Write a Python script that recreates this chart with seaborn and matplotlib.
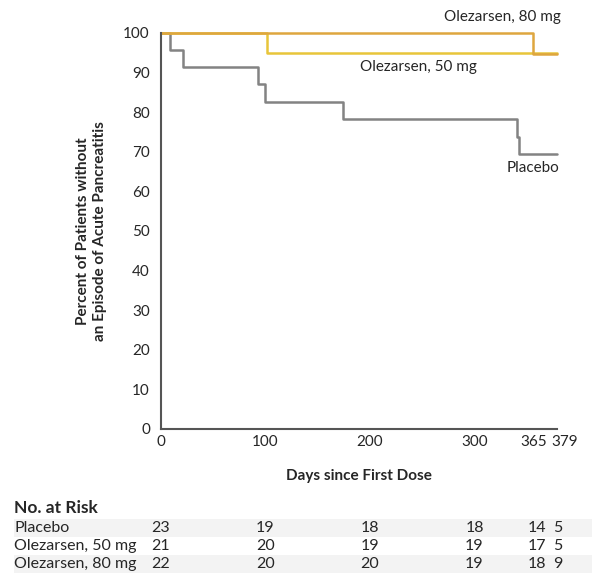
import pandas as pd
import numpy as np
import matplotlib.pyplot as plt
import matplotlib.transforms as mtransforms
from matplotlib.patches import Rectangle
import seaborn as sns

# Kaplan-Meier steps
placebo_days = [0, 8.5, 21, 92.5, 99.5, 174.5, 341, 343, 379]
placebo_pct = [100, 95.7, 91.3, 87.0, 82.6, 78.3, 73.8, 69.5, 69.5]
ole50_days = [0, 101.7, 379]
ole50_pct = [100, 95.0, 95.0]
ole80_days = [0, 356, 379]
ole80_pct = [100, 94.8, 94.8]

groups = ["Placebo", "Olezarsen, 50 mg", "Olezarsen, 80 mg"]
colors = {"Placebo": "#838383", "Olezarsen, 50 mg": "#e8c53a", "Olezarsen, 80 mg": "#dea63f"}

x_ticks = [0, 100, 200, 300, 365, 379]
y_ticks = [0, 10, 20, 30, 40, 50, 60, 70, 80, 90, 100]

risk_days = [0, 100, 200, 300, 365, 379]
risk_placebo = [23, 19, 18, 18, 14, 5]
risk_50 = [21, 20, 19, 19, 17, 5]
risk_80 = [22, 20, 20, 19, 18, 9]

df = pd.concat([
    pd.DataFrame({"day": placebo_days, "pct": placebo_pct, "group": "Placebo"}),
    pd.DataFrame({"day": ole50_days, "pct": ole50_pct, "group": "Olezarsen, 50 mg"}),
    pd.DataFrame({"day": ole80_days, "pct": ole80_pct, "group": "Olezarsen, 80 mg"}),
])

sns.set_style("white")
plt.rcParams["font.family"] = ["Lato", "DejaVu Sans"]

fig = plt.figure(figsize=(5.92, 5.85), dpi=100)
ax = fig.add_axes([161/592, 1-429/585, (557-161)/592, (429-33)/585])

sns.lineplot(data=df, x="day", y="pct", hue="group", hue_order=groups, palette=colors,
             drawstyle="steps-post", estimator=None, sort=False, linewidth=1.8,
             legend=False, ax=ax, clip_on=False)

ax.set_xlim(0, 379)
ax.set_ylim(0, 100)
ax.set_xticks(x_ticks)
ax.set_yticks(y_ticks)
ax.tick_params(axis="x", direction="in", length=6, width=1.2, color="#555555", labelsize=11, pad=4)
ax.tick_params(axis="y", direction="out", length=6, width=1.2, color="#555555", labelsize=11, pad=2)
for s in ["top", "right"]:
    ax.spines[s].set_visible(False)
for s in ["left", "bottom"]:
    ax.spines[s].set_color("#555555")
    ax.spines[s].set_linewidth(1.5)

# nudge the two crowded end labels apart
def shift(px):
    return mtransforms.ScaledTranslation(px/100, 0, fig.dpi_scale_trans)

xlabels = ax.get_xticklabels()
xlabels[4].set_transform(xlabels[4].get_transform() + shift(-9))
xlabels[5].set_transform(xlabels[5].get_transform() + shift(8))

ax.set_xlabel("Days since First Dose", fontsize=11, fontweight="bold", labelpad=15)
ax.set_ylabel("Percent of Patients without\nan Episode of Acute Pancreatitis",
              fontsize=11, fontweight="bold", labelpad=12)

ax.text(383, 102.3, "Olezarsen, 80 mg", ha="right", va="bottom", fontsize=11)
ax.text(246, 91.3, "Olezarsen, 50 mg", ha="center", va="center", fontsize=11)
ax.text(381, 66, "Placebo", ha="right", va="center", fontsize=11)

# number at risk table
fig.text(14/592, 1-508/585, "No. at Risk", fontsize=12.5, fontweight="bold", va="center")
trans = mtransforms.blended_transform_factory(ax.transData, fig.transFigure)
col_shift = [0, 0, 0, 0, -5, 1]
rows = [("Placebo", risk_placebo, 528), ("Olezarsen, 50 mg", risk_50, 546), ("Olezarsen, 80 mg", risk_80, 564)]
for i, (name, vals, ypx) in enumerate(rows):
    if i != 1:
        fig.patches.append(Rectangle((14/592, 1-(ypx+9)/585), 1, 18/585, transform=fig.transFigure,
                                     facecolor="#f3f3f3", edgecolor="none", zorder=0))
    fig.text(14/592, 1-ypx/585, name, fontsize=11.5, va="center")
    for d, v, sh in zip(risk_days, vals, col_shift):
        fig.text(d, 1-ypx/585, str(v), transform=trans + shift(sh), fontsize=11.5, ha="center", va="center")

plt.savefig("out.png", dpi=100)
